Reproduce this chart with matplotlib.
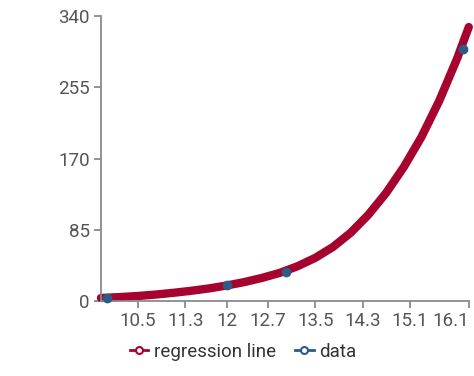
import matplotlib.pyplot as plt
from matplotlib.lines import Line2D

# observed points
data_x = [9.97, 12.0, 13.0, 16.0]
data_y = [3.6, 19.2, 34.7, 300.5]

# regression curve, values
reg_x = [9.87, 10.2, 10.5, 10.8, 11.1, 11.4, 11.7, 12.0, 12.3, 12.6, 12.9, 13.2, 13.5,
         13.8, 14.1, 14.4, 14.7, 15.0, 15.3, 15.6, 15.9, 16.1]
reg_y = [3.6, 4.7, 6.0, 7.7, 9.8, 12.2, 15.0, 18.5, 22.6, 27.6, 33.6, 41.5, 51.5,
         64.5, 81.5, 103.0, 129.0, 160.0, 196.0, 239.0, 289.0, 327.0]

x_ticks = [10.5, 11.3, 12, 12.7, 13.5, 14.3, 15.1, 16.1]
x_labels = ['10.5', '11.3', '12', '12.7', '13.5', '14.3', '15.1', '16.1']
y_ticks = [0, 85, 170, 255, 340]

line_color = '#a6032f'
point_color = '#2b5b88'
axis_color = '#8a8a8a'
text_color = '#555555'

plt.rcParams['font.family'] = ['Roboto', 'DejaVu Sans']

fig = plt.figure(figsize=(4.74, 3.76), dpi=100)
ax = fig.add_axes([0.213, 0.1995, 0.776, 0.7575])

ax.plot(reg_x, reg_y, color=line_color, lw=6, solid_capstyle='round',
        solid_joinstyle='round', zorder=2, clip_on=False)
ax.plot(data_x, data_y, 'o', color=point_color, ms=6, zorder=3, clip_on=False)

ax.set_xlim(9.87, 16.1)
ax.set_ylim(0, 340)
ax.set_xticks(x_ticks)
ax.set_xticklabels(x_labels)
ax.set_yticks(y_ticks)
# last label is pulled inside the figure
ax.get_xticklabels()[-1].set_horizontalalignment('right')

for side in ['top', 'right']:
  ax.spines[side].set_visible(False)
for side in ['left', 'bottom']:
  ax.spines[side].set_color(axis_color)
  ax.spines[side].set_linewidth(1.3)

ax.tick_params(colors=axis_color, labelcolor=text_color, labelsize=13.5,
               length=5, width=1.3, direction='out', pad=3)

handles = [
  Line2D([], [], color=line_color, lw=2, marker='o', ms=5, mfc='white', mew=1.5),
  Line2D([], [], color=point_color, lw=2, marker='o', ms=5, mfc='white', mew=1.5),
]
fig.legend(handles, ['regression line', 'data'], loc='center', bbox_to_anchor=(0.513, 0.064),
           ncol=2, frameon=False, fontsize=13.5, handlelength=1.0, handletextpad=0.3,
           columnspacing=1.0, labelcolor='#333333')

fig.savefig('out.png', dpi=100)
